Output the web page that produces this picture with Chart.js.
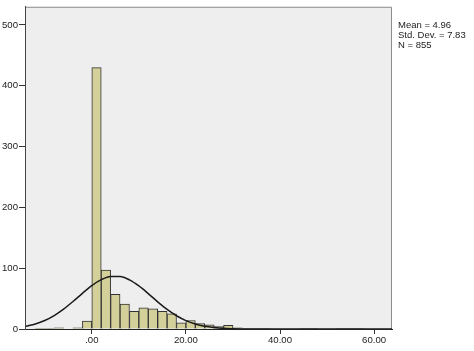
<!DOCTYPE html>
<html>
<head>
<meta charset="utf-8">
<script src="https://cdn.jsdelivr.net/npm/chart.js@4.4.0/dist/chart.umd.min.js"></script>
<style>
body{margin:0;background:#fff;}
#wrap{position:relative;width:474px;height:351px;}
#stats{position:absolute;left:398px;top:20px;font:9.5px "Liberation Sans",Arial,sans-serif;line-height:10px;color:#222;white-space:nowrap;}
</style>
</head>
<body>
<div id="wrap">
  <canvas id="hist" width="474" height="351"></canvas>
  <div id="stats">Mean = 4.96<br>Std. Dev. = 7.83<br>N = 855</div>
</div>
<script>
// histogram bins (width 2), start of each bin and its count
const binStarts = [-12, -10, -8, -4, -2, 0, 2, 4, 6, 8, 10, 12, 14, 16, 18, 20, 22, 24, 26, 28, 30, 32, 34, 36, 44, 46, 52, 54, 56];
const counts    = [  1,   1,  2,  2, 13, 430, 97, 57, 41, 29, 35, 33, 29, 25, 10, 14, 9, 7, 4, 6, 2, 1, 1, 1, 1, 1, 1, 1, 1];

// normal curve
const curveX = [-14,-12,-10,-8,-6,-4,-2,0,2,4,6,8,10,12,14,16,18,20,22,24,26,28,30,32,34,40,50,64];
const curveY = [4.6,8.3,14.0,22.1,32.7,45.2,58.7,71.3,81.1,86.4,86.3,80.8,70.8,58.2,44.7,32.2,21.8,13.8,8.2,4.5,2.4,1.1,0.5,0.2,0.1,0,0,0];

const xTicks = [0, 20, 40, 60];
const yTicks = [0, 100, 200, 300, 400, 500];

const FONT = '"Liberation Sans", Arial, sans-serif';

const plotBg = {
  id: 'plotBg',
  beforeDraw(chart){
    const {ctx, chartArea: a} = chart;
    ctx.save();
    ctx.fillStyle = '#EEEEEE';
    ctx.fillRect(a.left, a.top, a.right - a.left, a.bottom - a.top);
    ctx.strokeStyle = '#8c8c8c';
    ctx.lineWidth = 1;
    ctx.beginPath();
    ctx.moveTo(a.left, a.top + 0.5);
    ctx.lineTo(a.right - 0.5, a.top + 0.5);
    ctx.lineTo(a.right - 0.5, a.bottom);
    ctx.stroke();
    ctx.restore();
  }
};

new Chart(document.getElementById('hist'), {
  data: {
    datasets: [
      {
        type: 'line',
        data: curveX.map((x, i) => ({x: x, y: curveY[i]})),
        borderColor: '#1a1a1a',
        borderWidth: 1.5,
        pointRadius: 0,
        cubicInterpolationMode: 'monotone',
        order: 0
      },
      {
        type: 'bar',
        data: binStarts.map((s, i) => ({x: s + 1, y: counts[i]})),
        backgroundColor: '#D4D09A',
        borderColor: '#333333',
        borderWidth: 1,
        barPercentage: 1,
        categoryPercentage: 1,
        order: 1
      }
    ]
  },
  options: {
    responsive: false,
    animation: false,
    layout: {padding: {left: 0, right: 82, top: 2, bottom: 0}},
    plugins: {legend: {display: false}, tooltip: {enabled: false}},
    scales: {
      x: {
        type: 'linear',
        min: -14.2,
        max: 63.8,
        offset: false,
        afterBuildTicks: s => { s.ticks = xTicks.map(v => ({value: v})); },
        afterFit: s => { s.height = 22; },
        grid: {offset: false, drawOnChartArea: false, tickLength: 5, color: '#333'},
        border: {color: '#222', width: 1},
        ticks: {
          font: {family: FONT, size: 9.6}, color: '#222', padding: 1,
          maxRotation: 0, autoSkip: false,
          callback: v => v === 0 ? '.00' : v.toFixed(2)
        }
      },
      y: {
        min: 0,
        max: 530,
        afterBuildTicks: s => { s.ticks = yTicks.map(v => ({value: v})); },
        afterFit: s => { s.width = 25; },
        grid: {drawOnChartArea: false, tickLength: 6, color: '#333'},
        border: {color: '#444', width: 1},
        ticks: {font: {family: FONT, size: 9.6}, color: '#222', padding: 1}
      }
    }
  },
  plugins: [plotBg]
});
</script>
</body>
</html>
